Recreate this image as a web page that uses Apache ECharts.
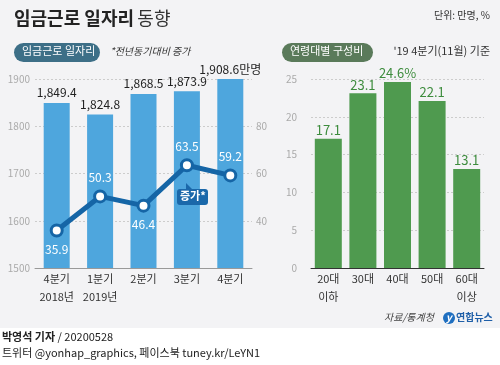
<!DOCTYPE html>
<html><head><meta charset="utf-8">
<script src="https://cdn.jsdelivr.net/npm/echarts@6/dist/echarts.min.js"></script>
<style>html,body{margin:0;padding:0;background:#fff}#c{width:500px;height:365px}</style>
</head><body><div id="c"></div>
<script>
const quarters = ['4분기\n2018년', '1분기\n2019년', '2분기', '3분기', '4분기'];
const jobs = [1849.4, 1824.8, 1868.5, 1873.9, 1908.6];
const growth = [35.9, 50.3, 46.4, 63.5, 59.2];
const ages = ['20대\n이하', '30대', '40대', '50대', '60대\n이상'];
const shares = [17.1, 23.1, 24.6, 22.1, 13.1];
const leftTicks = [1500, 1600, 1700, 1800, 1900];
const rightTicks = [40, 60, 80];

const F = '"Noto Sans CJK KR", "Noto Sans", sans-serif';
const chart = echarts.init(document.getElementById('c'), null, {renderer: 'canvas'});
const fmt = v => v.toLocaleString('en-US', {minimumFractionDigits: 1, maximumFractionDigits: 1});

chart.setOption({
  backgroundColor: '#fff',
  textStyle: {fontFamily: F},
  animation: false,
  graphic: [
    {type: 'rect', left: 0, top: 0, shape: {width: 500, height: 328}, style: {fill: '#f3f3f5'}, z: -10},
    {type: 'text', left: 14, top: 9, style: {text: '{b|임금근로 일자리} {n|동향}', rich: {
      b: {fontFamily: F, fontSize: 18, fontWeight: 'bold', fill: '#222'},
      n: {fontFamily: F, fontSize: 18, fill: '#333'}}}},
    {type: 'text', right: 10, top: 10, style: {text: '단위: 만명, %', fontFamily: F, fontSize: 10, fill: '#333'}},
    {type: 'rect', left: 14, top: 43, shape: {width: 86, height: 19, r: 9.5}, style: {fill: '#3d6f87'}},
    {type: 'text', left: 22, top: 45, style: {text: '임금근로 일자리', fontFamily: F, fontSize: 11, fill: '#fff'}},
    {type: 'text', left: 110, top: 46, style: {text: '*전년동기대비 증가', fontFamily: F, fontSize: 10, fontStyle: 'italic', fill: '#333'}},
    {type: 'rect', left: 282, top: 43, shape: {width: 91, height: 19, r: 9.5}, style: {fill: '#5a7a5a'}},
    {type: 'text', left: 290, top: 45, style: {text: '연령대별 구성비', fontFamily: F, fontSize: 11, fill: '#fff'}},
    {type: 'text', right: 10, top: 45, style: {text: "'19 4분기(11월) 기준", fontFamily: F, fontSize: 11, fill: '#333'}},
    // callout "증가*"
    {type: 'polygon', shape: {points: [[186, 183], [186, 190], [193, 190]]}, style: {fill: '#1b68aa'}, z: 20},
    {type: 'rect', left: 177, top: 189, shape: {width: 31, height: 16, r: 3}, style: {fill: '#1b68aa'}, z: 20},
    {type: 'text', left: 180, top: 190, style: {text: '증가*', fontFamily: F, fontSize: 11, fontWeight: 'bold', fill: '#fff'}, z: 21},
    {type: 'text', left: 384, top: 312, style: {text: '자료/통계청', fontFamily: F, fontSize: 10, fontStyle: 'italic', fill: '#444'}},
    {type: 'circle', shape: {cx: 449, cy: 318, r: 6}, style: {fill: '#1f6fc0'}},
    {type: 'text', left: 446, top: 312, style: {text: 'y', fontFamily: F, fontSize: 10, fontWeight: 'bold', fontStyle: 'italic', fill: '#fff'}},
    {type: 'text', left: 456, top: 312, style: {text: '연합뉴스', fontFamily: F, fontSize: 10, fontWeight: 'bold', fill: '#1f5fa8'}},
    {type: 'text', left: 2, top: 331, style: {text: '{b|박영석 기자} / 20200528', fontFamily: F, fontSize: 11, fill: '#222', rich: {b: {fontFamily: F, fontSize: 11, fontWeight: 'bold', fill: '#222'}}}},
    {type: 'text', left: 2, top: 347, style: {text: '트위터 @yonhap_graphics, 페이스북 tuney.kr/LeYN1', fontFamily: F, fontSize: 11, fill: '#222'}}
  ],
  grid: [
    {left: 35, right: 248, top: 79, bottom: 97},
    {left: 311, right: 16, top: 79, bottom: 97}
  ],
  xAxis: [
    {type: 'category', gridIndex: 0, data: quarters,
      axisLine: {lineStyle: {color: '#999'}}, axisTick: {show: false},
      axisLabel: {fontFamily: F, fontSize: 11, color: '#333', lineHeight: 18, margin: 2, interval: 0}},
    {type: 'category', gridIndex: 1, data: ages,
      axisLine: {lineStyle: {color: '#333'}}, axisTick: {show: false},
      axisLabel: {fontFamily: F, fontSize: 11, color: '#333', lineHeight: 18, margin: 2, interval: 0}}
  ],
  yAxis: [
    {type: 'value', gridIndex: 0, min: 1500, max: 1900, interval: 100,
      axisLine: {show: false}, axisTick: {show: false},
      axisLabel: {fontFamily: F, fontSize: 10, color: '#aaa', margin: 5,
        formatter: v => leftTicks.includes(v) ? String(v) : ''},
      splitLine: {lineStyle: {color: '#ccc', type: [2, 2]}}},
    {type: 'value', gridIndex: 0, min: 20, max: 100, interval: 20, position: 'right',
      axisLine: {show: false}, axisTick: {show: false},
      axisLabel: {fontFamily: F, fontSize: 10, color: '#aaa', margin: 4,
        formatter: v => rightTicks.includes(v) ? String(v) : ''},
      splitLine: {show: false}},
    {type: 'value', gridIndex: 1, min: 0, max: 25, interval: 5,
      axisLine: {show: false}, axisTick: {show: false},
      axisLabel: {fontFamily: F, fontSize: 10, color: '#aaa', margin: 14},
      splitLine: {lineStyle: {color: '#ccc', type: [2, 2]}}}
  ],
  series: [
    {type: 'bar', xAxisIndex: 0, yAxisIndex: 0, data: jobs, barWidth: 26,
      itemStyle: {color: '#4ea6dd'},
      label: {show: true, position: 'top', distance: 4, fontFamily: F, fontSize: 12, color: '#222',
        formatter: p => fmt(p.value) + (p.dataIndex === jobs.length - 1 ? '만명' : '')}},
    {type: 'line', xAxisIndex: 0, yAxisIndex: 1, symbol: 'circle', symbolSize: 11,
      lineStyle: {color: '#1565a6', width: 5},
      itemStyle: {color: '#fff', borderColor: '#1565a6', borderWidth: 3},
      label: {show: true, fontFamily: F, fontSize: 12, color: '#fff', distance: 6,
        formatter: p => fmt(p.value), position: 'top'},
      data: growth.map((v, i) => ({value: v, label: {position: (i === 0 || i === 2) ? 'bottom' : 'top'}})),
      z: 5},
    {type: 'bar', xAxisIndex: 1, yAxisIndex: 2, data: shares, barWidth: 27,
      itemStyle: {color: '#4f9a4f'},
      label: {show: true, position: 'top', distance: 2, fontFamily: F, fontSize: 13, color: '#3d8c3d',
        formatter: p => fmt(p.value) + (p.dataIndex === 2 ? '%' : '')}}
  ]
});
</script></body></html>
